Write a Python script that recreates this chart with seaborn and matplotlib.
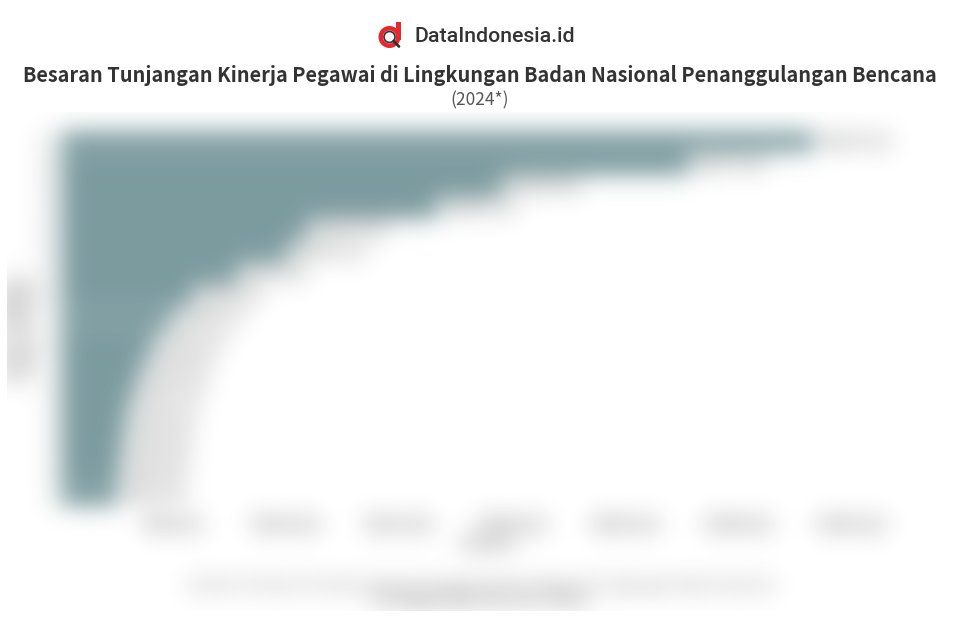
import numpy as np
import pandas as pd
import matplotlib
matplotlib.use("Agg")
import matplotlib.pyplot as plt
from matplotlib.patches import Circle, Rectangle, Wedge
import seaborn as sns

kelas = ["17", "16", "15", "14", "13", "12", "11", "10", "9",
         "8", "7", "6", "5", "4", "3", "2", "1"]
tunjangan = [33.3, 27.8, 19.6, 16.7, 11.0, 10.1, 7.9, 5.9, 5.0,
             4.3, 3.8, 3.45, 3.1, 2.9, 2.8, 2.65, 2.55]
x_ticks = [0, 5, 10, 15, 20, 25, 30, 35]
x_labels = ["", "Rp5 juta", "Rp10 juta", "Rp15 juta", "Rp20 juta",
            "Rp25 juta", "Rp30 juta", "Rp35 juta"]

BAR_COLOR = "#6c8f94"
TEXT_COLOR = "#333333"
W, H = 960, 620


def smooth(a, kernel, axis):
    return np.apply_along_axis(lambda r: np.convolve(r, kernel, mode="same"), axis, a)


# the chart area of the original sits behind a blur, so blur the whole axes
def blur(image, dpi, sigma=12):
    pad = int(3 * sigma)
    t = np.arange(-pad, pad + 1)
    kernel = np.exp(-t ** 2 / (2 * sigma ** 2))
    kernel /= kernel.sum()
    img = np.pad(image, ((pad, pad), (pad, pad), (0, 0)))
    alpha = img[..., 3]
    out = np.zeros_like(img)
    blurred_alpha = smooth(smooth(alpha, kernel, 0), kernel, 1)
    for c in range(3):
        pm = smooth(smooth(img[..., c] * alpha, kernel, 0), kernel, 1)
        out[..., c] = np.where(blurred_alpha > 1e-4, pm / np.maximum(blurred_alpha, 1e-4), 1)
    out[..., 3] = blurred_alpha
    return np.clip(out, 0, 1), -pad, -pad


sns.set_style("white")
plt.rcParams["font.family"] = ["Noto Sans CJK SC", "DejaVu Sans"]

df = pd.DataFrame({"kelas": kelas, "tunjangan": tunjangan})

fig = plt.figure(figsize=(W / 100, H / 100), dpi=100, facecolor="white")
ax = fig.add_axes([60 / W, 1 - 506 / H, 793 / W, 376 / H])
sns.barplot(data=df, x="tunjangan", y="kelas", orient="h", color=BAR_COLOR,
            saturation=1, width=0.94, ax=ax)
ax.bar_label(ax.containers[0], fmt=lambda v: f"Rp{v:.1f} jt".replace(".", ","),
             padding=6, fontsize=12, color="#444444")
ax.set_xlim(0, 35)
ax.set_xticks(x_ticks)
ax.set_xticklabels(x_labels, fontsize=11, color="#333333")
ax.tick_params(axis="x", length=0, pad=7)
ax.tick_params(axis="y", length=0, pad=4, labelsize=10, labelcolor="#777777")
ax.set_xlabel("Rupiah", fontsize=12, color="#444444", labelpad=2, x=0.54)
ax.set_ylabel("Kelas Jabatan\nPegawai BNPB", fontsize=11, color="#333333", labelpad=3, y=0.47)
sns.despine(ax=ax, left=True, bottom=True)
ax.patch.set_visible(False)

# source notes live in the axes so they get the same blur
ax.text(480 / W, 1 - 585 / H,
        "Sumber: Peraturan Presiden tentang Tunjangan Kinerja Pegawai di Lingkungan Badan Nasional",
        transform=fig.transFigure, ha="center", va="center", fontsize=9.5, color="#555555")
ax.text(480 / W, 1 - 600 / H, "Penanggulangan Bencana, diolah",
        transform=fig.transFigure, ha="center", va="center", fontsize=10, color="#333333")
ax.set_agg_filter(blur)

# overlay in pixel coordinates for the sharp header and the blur's hard edges
top = fig.add_axes([0, 0, 1, 1], zorder=5)
top.set_xlim(0, W)
top.set_ylim(H, 0)
top.axis("off")
for x, y, w, h in [(0, 0, W, 112), (0, 611, W, 9), (0, 0, 7, H)]:
    top.add_patch(Rectangle((x, y), w, h, color="white", lw=0))

# logo
top.add_patch(Rectangle((396, 22), 4.5, 18, color="#e8262d", lw=0))
top.add_patch(Wedge((389.5, 37), 11, 0, 360, width=4.5, color="#e8262d", lw=0))
top.add_patch(Circle((389.5, 37), 5.5, facecolor="#f4f4f4", edgecolor="#333333", lw=1.2))
top.plot([393.5, 399], [41, 46.5], color="#333333", lw=2, solid_capstyle="round")

top.text(415, 37, "DataIndonesia.id", family="Roboto", weight="medium", fontsize=15.3,
         color=TEXT_COLOR, ha="left", va="center")
top.text(480, 75, "Besaran Tunjangan Kinerja Pegawai di Lingkungan Badan Nasional Penanggulangan Bencana",
         fontsize=14.3, weight="bold", color=TEXT_COLOR, ha="center", va="center")
top.text(480, 100, "(2024*)", fontsize=12.5, color="#555555", ha="center", va="center")

fig.savefig("out.png", dpi=100)
